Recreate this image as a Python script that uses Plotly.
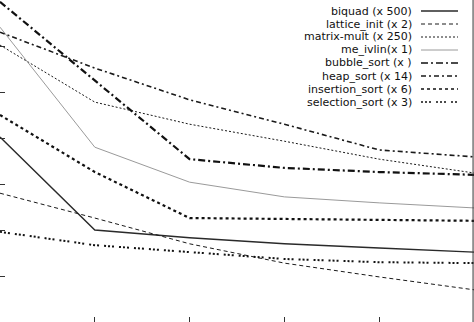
import plotly.graph_objects as go

# Normalised run time of each benchmark at six configuration steps
steps = [0, 1, 2, 3, 4, 5]

biquad = [4.02, 2.00, 1.83, 1.70, 1.61, 1.52]
lattice_init = [2.80, 2.26, 1.70, 1.28, 0.98, 0.70]
matrix_mult = [6.02, 4.78, 4.30, 3.93, 3.54, 3.24]
me_ivlin = [6.41, 3.80, 3.04, 2.72, 2.59, 2.48]
bubble_sort = [6.96, 5.24, 3.54, 3.35, 3.26, 3.20]
heap_sort = [6.30, 5.52, 4.83, 4.30, 3.74, 3.59]
insertion_sort = [4.50, 3.26, 2.26, 2.24, 2.22, 2.20]
selection_sort = [1.96, 1.67, 1.52, 1.37, 1.30, 1.28]

series_names = [
    "biquad (x 500)",
    "lattice_init (x 2)",
    "matrix-mult (x 250)",
    "me_ivlin(x 1)",
    "bubble_sort (x )",
    "heap_sort (x 14)",
    "insertion_sort (x 6)",
    "selection_sort (x 3)",
]
series_values = [biquad, lattice_init, matrix_mult, me_ivlin,
                 bubble_sort, heap_sort, insertion_sort, selection_sort]

# gnuplot-like monochrome line styles: (colour, width, dash)
styles = [
    ("#2a2a2a", 1.4, "solid"),
    ("#1a1a1a", 1.0, "4px,3px"),
    ("#1a1a1a", 1.0, "2px,2px"),
    ("#9a9a9a", 1.0, "solid"),
    ("#111111", 2.2, "7px,3px,2px,3px"),
    ("#1a1a1a", 1.6, "5px,3px,2px,3px"),
    ("#111111", 2.2, "3px,3px"),
    ("#111111", 2.0, "2px,2px,2px,2px,2px,5px"),
]

W, H = 474, 322

fig = go.Figure()
for name, vals, (col, wid, dash) in zip(series_names, series_values, styles):
    fig.add_trace(go.Scatter(
        x=steps, y=vals, mode="lines", name=name,
        line=dict(color=col, width=wid, dash=dash),
        showlegend=False,
    ))

# Key in the top-right corner: right-aligned labels with a line sample after each
key_pitch = 13.0
key_rows = [11 + i * key_pitch for i in range(len(series_names))]
key_text_x = 413 / W
key_x0, key_x1 = 421 / W, 458 / W
shapes = []
annotations = []
for name, (col, wid, dash), py in zip(series_names, styles, key_rows):
    yp = 1 - py / H
    annotations.append(dict(
        x=key_text_x, y=yp, xref="paper", yref="paper",
        xanchor="right", yanchor="middle", showarrow=False, borderpad=0,
        text=name, font=dict(family="DejaVu Sans, sans-serif",
                             size=11, color="#111111"),
    ))
    shapes.append(dict(
        type="line", xref="paper", yref="paper",
        x0=key_x0, x1=key_x1, y0=yp, y1=yp,
        line=dict(color=col, width=min(wid, 1.6), dash=dash),
    ))

# Right-hand border of the plot frame
shapes.append(dict(type="line", xref="paper", yref="paper",
                   x0=0.998, x1=0.998, y0=0, y1=1,
                   line=dict(color="#333333", width=1)))

fig.update_layout(
    width=W, height=H, autosize=False,
    margin=dict(l=0, r=0, t=0, b=0),
    paper_bgcolor="white", plot_bgcolor="white",
    shapes=shapes, annotations=annotations,
    xaxis=dict(range=[0, 5], tickvals=steps, ticks="inside", ticklen=5,
               tickcolor="#333333", showticklabels=False, showgrid=False,
               zeroline=False, showline=False),
    yaxis=dict(range=[0, 7], tickvals=list(range(0, 8)), ticks="inside",
               ticklen=5, tickcolor="#333333", showticklabels=False,
               showgrid=False, zeroline=False, showline=False),
)

fig.write_html("out.html")
